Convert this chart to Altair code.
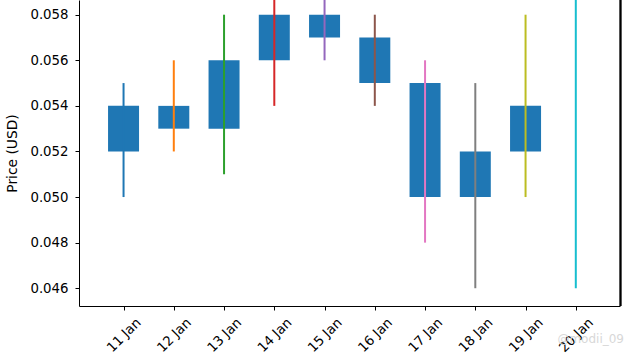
import altair as alt
import pandas as pd

days = [11, 12, 13, 14, 15, 16, 17, 18, 19, 20]
labels = ["11 Jan", "12 Jan", "13 Jan", "14 Jan", "15 Jan", "16 Jan", "17 Jan", "18 Jan", "19 Jan", "20 Jan"]
box_low = [0.052, 0.053, 0.053, 0.056, 0.057, 0.055, 0.050, 0.050, 0.052, 0.060]
box_high = [0.054, 0.054, 0.056, 0.058, 0.058, 0.057, 0.055, 0.052, 0.054, 0.060]
low = [0.050, 0.052, 0.051, 0.054, 0.056, 0.054, 0.048, 0.046, 0.050, 0.046]
high = [0.055, 0.056, 0.058, 0.060, 0.059, 0.058, 0.056, 0.055, 0.058, 0.062]
y_ticks = [0.046, 0.048, 0.050, 0.052, 0.054, 0.056, 0.058]
tab10 = ["#1f77b4", "#ff7f0e", "#2ca02c", "#d62728", "#9467bd",
         "#8c564b", "#e377c2", "#7f7f7f", "#bcbd22", "#17becf"]
watermark = ["@modii_09"]

df = pd.DataFrame({"day": days, "label": labels, "box_low": box_low,
                   "box_high": box_high, "low": low, "high": high})

font = "DejaVu Sans"
xscale = alt.Scale(domain=[10.213, 20.78], nice=False, zero=False)
yscale = alt.Scale(domain=[0.04522, 0.058645], nice=False, zero=False)

xaxis = alt.Axis(values=days, labelExpr="datum.value + ' Jan'", labelAngle=315,
                 labelAlign="center", labelBaseline="middle", labelPadding=25,
                 tickSize=4, grid=False, title=None, labelFont=font, labelFontSize=13.3,
                 labelColor="black", domainColor="black", tickColor="black",
                 labelOverlap=False)
yaxis = alt.Axis(values=y_ticks, format=".3f", title="Price (USD)", grid=False,
                 tickSize=4, labelPadding=7, titlePadding=10, labelFont=font,
                 labelFontSize=13.3, titleFont=font, titleFontSize=13.8,
                 titleFontWeight="normal", labelColor="black", titleColor="black",
                 domainColor="black", tickColor="black")

base = alt.Chart(df)
bars = base.mark_bar(size=31, color="#1f77b4", clip=True).encode(
    x=alt.X("day:Q", scale=xscale, axis=xaxis),
    y=alt.Y("box_low:Q", scale=yscale, axis=yaxis),
    y2="box_high:Q",
)
wicks = base.mark_rule(strokeWidth=2, clip=True).encode(
    x=alt.X("day:Q", scale=xscale),
    y=alt.Y("low:Q", scale=yscale),
    y2="high:Q",
    color=alt.Color("label:N", scale=alt.Scale(domain=labels, range=tab10), legend=None),
)
right = base.mark_rule(color="black", strokeWidth=1.2).encode(
    x=alt.value(541.5), y=alt.value(0), y2=alt.value(306)
)
wm = alt.Chart(pd.DataFrame({"t": watermark})).mark_text(
    font=font, fontSize=12, color="#d8d8d8", align="right", baseline="middle"
).encode(text="t:N", x=alt.value(545), y=alt.value(33 + 306))

chart = alt.layer(bars, wicks, right, wm).properties(
    width=541, height=306,
    autosize=alt.AutoSizeParams(type="none"),
    padding={"left": 79, "top": 0, "right": 10, "bottom": 48},
).configure_view(stroke=None)

chart.save("out.html", embed_options={"renderer": "svg", "actions": False})
